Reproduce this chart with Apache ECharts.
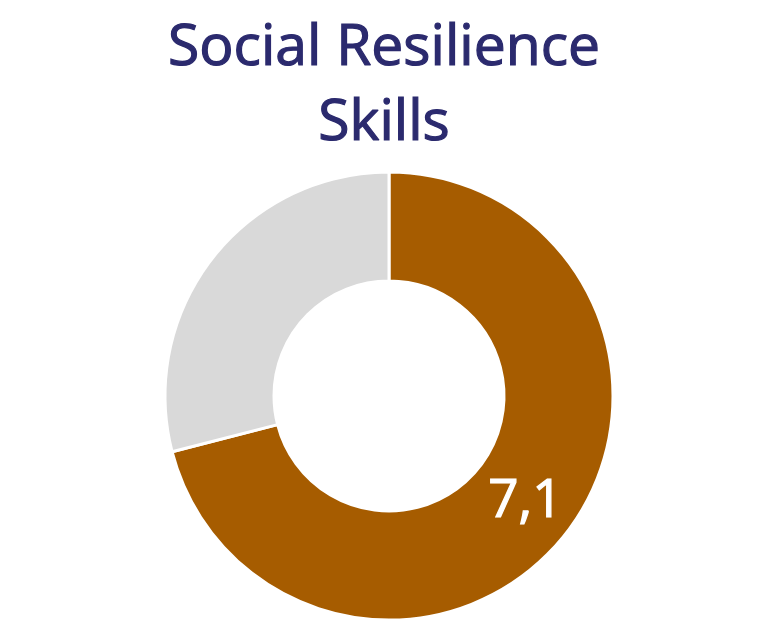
<!DOCTYPE html>
<html>
<head>
<meta charset="utf-8">
<script src="https://cdn.jsdelivr.net/npm/echarts@6/dist/echarts.min.js"></script>
<style>
html,body{margin:0;padding:0;background:#fff;}
#chart{width:768px;height:640px;}
</style>
</head>
<body>
<div id="chart"></div>
<script>
const titleText = "Social Resilience\nSkills";
const categories = ["Score", "Remaining"];
const values = [7.1, 2.9];
const labels = ["7,1", ""];
const colors = ["#A65C00", "#D9D9D9"];

const chart = echarts.init(document.getElementById('chart'));
chart.setOption({
  animation: false,
  title: {
    text: titleText,
    left: 'center',
    top: 6,
    textStyle: {
      fontFamily: 'Open Sans',
      fontSize: 57,
      fontWeight: 'normal',
      color: '#2B2A6E',
      textBorderColor: '#2B2A6E',
      textBorderWidth: 1.2,
      lineHeight: 75
    }
  },
  series: [{
    type: 'pie',
    center: [389, 396],
    radius: [115, 224],
    startAngle: 90,
    clockwise: true,
    avoidLabelOverlap: false,
    itemStyle: { borderColor: '#ffffff', borderWidth: 3 },
    label: {
      show: true,
      position: 'inside',
      color: '#ffffff',
      fontFamily: 'Open Sans',
      fontSize: 53,
      textBorderColor: '#ffffff',
      textBorderWidth: 1.2,
      formatter: function (p) { return labels[p.dataIndex]; }
    },
    labelLine: { show: false },
    data: categories.map((c, i) => ({ name: c, value: values[i], itemStyle: { color: colors[i] } }))
  }]
});
</script>
</body>
</html>
